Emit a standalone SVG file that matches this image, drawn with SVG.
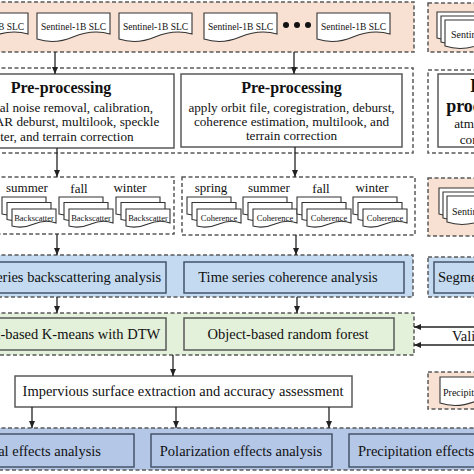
<svg xmlns="http://www.w3.org/2000/svg" width="474" height="474" viewBox="0 0 474 474">
<defs>
<style>
text{font-family:"Liberation Serif","Times New Roman",serif;fill:#111}
.ct{fill:none;stroke:#595959;stroke-width:1.5;stroke-dasharray:4 2.5}
.peach{fill:#f8e1d2}
.blue{fill:#c3daf0}
.green{fill:#e3f0da}
.blue2{fill:#b4c7e7}
.box{fill:#fff;stroke:#595959;stroke-width:1.5}
.bbox{stroke:#44546a;stroke-width:1.5}
.gbox{fill:#e3f0da;stroke:#595959;stroke-width:1.5}
.doc{fill:#fff;stroke:#333;stroke-width:1.1}
.t13{font-size:13.2px;text-anchor:middle}
.t14{font-size:14.5px;text-anchor:middle}
.ttl{font-size:16px;font-weight:bold;text-anchor:middle}
.ttl2{font-size:18px;font-weight:bold;text-anchor:middle}
.lab{font-size:13px;text-anchor:middle}
.bs{font-size:8.5px;text-anchor:middle}
.slc{font-size:9.5px;text-anchor:middle}
.conn line{stroke:#222;stroke-width:1.3;marker-end:url(#ah)}
</style>
<marker id="ah" markerWidth="7" markerHeight="6" refX="7" refY="3" orient="auto" markerUnits="userSpaceOnUse">
<path d="M0,0 L7,3 L0,6 Z" fill="#222"/>
</marker>
<path id="docL" class="doc" d="M0,0 H73 V21 C60,17 48,19 36,24 C24,29 12,30 0,26 Z"/>
<path id="docS" class="doc" d="M0,0 H44 V14 C36,11 29,12 22,15 C15,18 7,19 0,17 Z"/>
<g id="stackS">
<use href="#docS" x="0" y="0"/>
<use href="#docS" x="5" y="5.5"/>
<use href="#docS" x="10" y="12"/>
</g>
<g id="stackL">
<use href="#docL" x="0" y="0"/>
<use href="#docL" x="4" y="4"/>
<use href="#docL" x="8" y="8"/>
</g>
</defs>
<rect width="474" height="474" fill="#fff"/>

<g id="slc-inputs">
<rect class="ct peach" x="-5" y="2" width="419" height="50" style="fill:#f8e1d2"/>
<use href="#docL" x="-45" y="13"/><text class="slc" x="-8.5" y="30">Sentinel-1B SLC</text>
<use href="#docL" x="37" y="13"/><text class="slc" x="73.5" y="30">Sentinel-1B SLC</text>
<use href="#docL" x="119" y="13"/><text class="slc" x="155.5" y="30">Sentinel-1B SLC</text>
<use href="#docL" x="204" y="13"/><text class="slc" x="240.5" y="30">Sentinel-1B SLC</text>
<circle cx="286" cy="25" r="3" fill="#111"/><circle cx="297" cy="25" r="3" fill="#111"/><circle cx="308" cy="25" r="3" fill="#111"/>
<use href="#docL" x="317" y="13"/><text class="slc" x="353.5" y="30">Sentinel-1B SLC</text>
</g>

<g id="s2-input">
<rect class="ct" x="428" y="3" width="60" height="49" style="fill:#f8e1d2"/>
<use href="#stackL" x="437" y="12"/>
<text x="451" y="38" style="font-size:10px">Sentinel-2</text>
</g>

<g id="preproc-row">
<rect class="ct" x="-5" y="68" width="418" height="85"/>
</g>
<g id="preproc-backscatter">
<rect class="box" x="-52" y="74" width="226" height="74"/>
<text class="ttl" x="61" y="93">Pre-processing</text>
<text class="t13" x="61" y="112">thermal noise removal, calibration,</text>
<text class="t13" x="61" y="126">TOPSAR deburst, multilook, speckle</text>
<text class="t13" x="61" y="141">filter, and terrain correction</text>
</g>
<g id="preproc-coherence">
<rect class="box" x="181" y="74" width="221" height="73"/>
<text class="ttl" x="291.5" y="93">Pre-processing</text>
<text class="t13" x="291.5" y="112">apply orbit file, coregistration, deburst,</text>
<text class="t13" x="291.5" y="126">coherence estimation, multilook, and</text>
<text class="t13" x="291.5" y="140">terrain correction</text>
</g>
<g id="preproc-s2">
<rect class="ct" x="428" y="70" width="60" height="83"/>
<rect class="box" x="438" y="74" width="60" height="73"/>
<text class="ttl2" x="486.5" y="92">Pre-</text>
<text class="ttl2" x="486.5" y="112">processing</text>
<text class="t13" x="486.5" y="128">atmospheric</text>
<text class="t13" x="486.5" y="144">correction</text>
</g>

<g id="backscatter-seasons">
<rect class="ct" x="-5" y="177" width="179" height="57"/>
<text class="lab" x="27" y="192">summer</text>
<text class="lab" x="79" y="193">fall</text>
<text class="lab" x="130" y="192">winter</text>
<use href="#stackS" x="2" y="197"/><text class="bs" x="34" y="221">Backscatter</text>
<use href="#stackS" x="59" y="197"/><text class="bs" x="91" y="221">Backscatter</text>
<use href="#stackS" x="116" y="197"/><text class="bs" x="148" y="221">Backscatter</text>
</g>
<g id="coherence-seasons">
<rect class="ct" x="182" y="177" width="233" height="58"/>
<text class="lab" x="211" y="192">spring</text>
<text class="lab" x="269" y="192">summer</text>
<text class="lab" x="321" y="193">fall</text>
<text class="lab" x="372" y="192">winter</text>
<use href="#stackS" x="187" y="197"/><text class="bs" x="219" y="221">Coherence</text>
<use href="#stackS" x="243" y="197"/><text class="bs" x="275" y="221">Coherence</text>
<use href="#stackS" x="297" y="197"/><text class="bs" x="329" y="221">Coherence</text>
<use href="#stackS" x="353" y="197"/><text class="bs" x="385" y="221">Coherence</text>
</g>
<g id="s2-images">
<rect class="ct" x="428" y="178" width="60" height="58" style="fill:#f8e1d2"/>
<use href="#stackL" x="439" y="188"/>
<text x="452" y="215" style="font-size:10px">Sentinel-2</text>
</g>

<g id="analysis-row">
<rect class="ct" x="-5" y="255" width="418" height="42" style="fill:#c3daf0"/>
</g>
<g id="backscatter-analysis">
<rect class="bbox" x="-48" y="262" width="214" height="31" fill="#c3daf0"/>
<text class="t14" x="59" y="282">Time series backscattering analysis</text>
</g>
<g id="coherence-analysis">
<rect class="bbox" x="184" y="262" width="220" height="31" fill="#c3daf0"/>
<text class="t14" x="288" y="282">Time series coherence analysis</text>
</g>
<g id="segmentation">
<rect class="ct" x="428" y="257" width="60" height="40" style="fill:#c3daf0"/>
<rect class="bbox" x="434" y="262" width="60" height="31" fill="#c3daf0"/>
<text x="438" y="282" style="font-size:14.5px">Segmentation</text>
</g>

<g id="classify-row">
<rect class="ct" x="-5" y="313" width="419" height="42" style="fill:#e3f0da"/>
</g>
<g id="kmeans">
<rect class="gbox" x="-48" y="318" width="214" height="32"/>
<text class="t14" x="61" y="339">Object-based K-means with DTW</text>
</g>
<g id="random-forest">
<rect class="gbox" x="184" y="318" width="210" height="32"/>
<text class="t14" x="288" y="339">Object-based random forest</text>
</g>
<g id="validation">
<text x="452" y="341" style="font-size:14.5px">Validation</text>
</g>

<g id="impervious">
<rect class="box" x="15" y="376" width="337" height="31"/>
<text class="t14" x="183" y="396">Impervious surface extraction and accuracy assessment</text>
</g>
<g id="precip-data">
<rect class="ct" x="428" y="372" width="60" height="37" style="fill:#f8e1d2"/>
<use href="#docL" x="440" y="377"/>
<text x="443" y="396" style="font-size:10px">Precipitation</text>
</g>

<g id="effects-row">
<rect class="ct" x="-5" y="428" width="490" height="42" style="fill:#b4c7e7"/>
</g>
<g id="seasonal-effects">
<rect class="bbox" x="-76" y="434" width="210" height="33" fill="#b4c7e7"/>
<text class="t14" x="29" y="456">Seasonal effects analysis</text>
</g>
<g id="polarization-effects">
<rect class="bbox" x="151" y="434" width="181" height="33" fill="#b4c7e7"/>
<text class="t14" x="241" y="456">Polarization effects analysis</text>
</g>
<g id="precipitation-effects">
<rect class="bbox" x="349" y="434" width="200" height="33" fill="#b4c7e7"/>
<text x="358" y="456" style="font-size:14.5px">Precipitation effects analysis</text>
</g>

<g id="connectors" class="conn">
<line x1="55" y1="52" x2="55" y2="74"/>
<line x1="294" y1="52" x2="294" y2="74"/>
<line x1="57" y1="148" x2="57" y2="177"/>
<line x1="295" y1="147" x2="295" y2="177"/>
<line x1="57" y1="234" x2="57" y2="255"/>
<line x1="296" y1="235" x2="296" y2="255"/>
<line x1="57" y1="297" x2="57" y2="313"/>
<line x1="297" y1="297" x2="297" y2="313"/>
<line x1="474" y1="327" x2="414" y2="327"/>
<line x1="474" y1="345" x2="414" y2="345"/>
<line x1="173" y1="355" x2="173" y2="376"/>
<line x1="32" y1="407" x2="32" y2="428"/>
<line x1="176" y1="407" x2="176" y2="428"/>
<line x1="329" y1="407" x2="329" y2="428"/>
</g>
</svg>
